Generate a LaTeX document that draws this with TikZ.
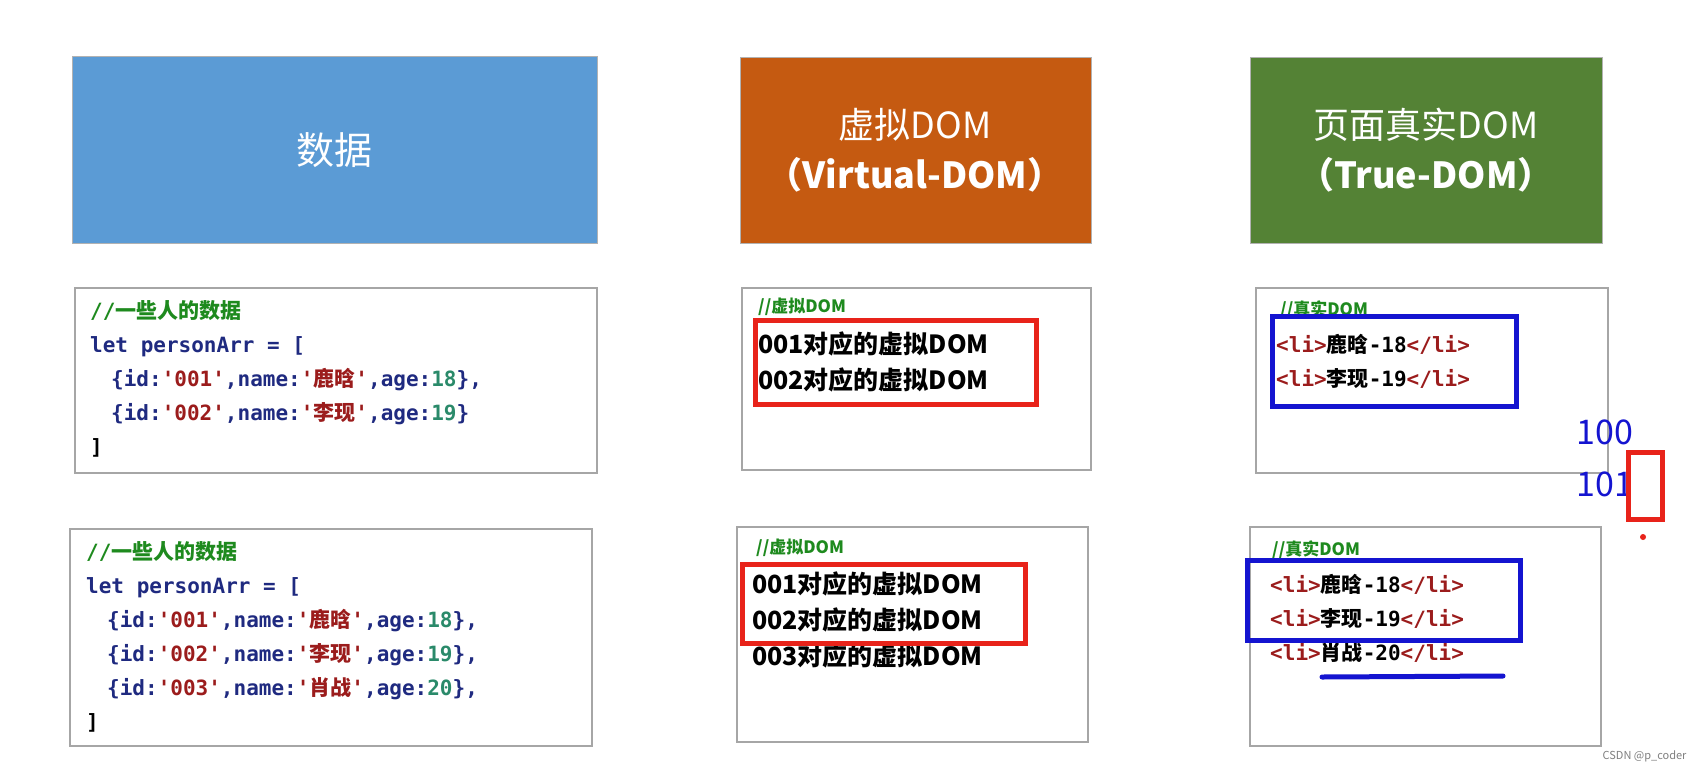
\documentclass[tikz,border=0pt]{standalone}
\usepackage{fontspec}
\setmainfont{Noto Sans CJK SC}
\newfontfamily\cjk{Noto Sans CJK SC}
\newfontfamily\mono{DejaVu Sans Mono}
\definecolor{hblue}{HTML}{5B9BD5}
\definecolor{horange}{HTML}{C55A11}
\definecolor{hgreen}{HTML}{548235}
\definecolor{cm}{HTML}{1E8A1E}
\definecolor{kw}{HTML}{1F2A80}
\definecolor{st}{HTML}{9B1C1C}
\definecolor{nu}{HTML}{2A8A6A}
\definecolor{rbox}{HTML}{E8231A}
\definecolor{bbox}{HTML}{1414D0}
\newcommand{\Cj}[1]{{\cjk #1}}
\newcommand{\Str}[1]{\textcolor{st}{#1}}
\newcommand{\Num}[1]{\textcolor{nu}{#1}}
\begin{document}
\begin{tikzpicture}[x=1pt,y=-1pt,
  head/.style={draw=gray!60,line width=1pt},
  card/.style={draw=gray!70,line width=1.3pt,fill=white},
  code/.style={anchor=north west,align=left,font=\mono\bfseries\fontsize{21}{34}\selectfont,text=kw,inner sep=0},
  htxt/.style={text=white,align=center},
  hilite/.style={line width=5pt}]
\useasboundingbox[fill=white] (0,0) rectangle (1694,769);
% headers
\fill[hblue,head] (72,56) rectangle (597,243);
\node[htxt,font=\fontsize{38}{44}\selectfont] (h1) at (334,150) {数据};
\fill[horange,head] (740,57) rectangle (1091,243);
\node[htxt,font=\fontsize{36}{50}\selectfont] (h2) at (915,150) {虚拟DOM\\\textbf{（Virtual-DOM）}};
\fill[hgreen,head] (1250,57) rectangle (1602,243);
\node[htxt,font=\fontsize{36}{50}\selectfont] (h3) at (1426,150) {页面真实DOM\\\textbf{（True-DOM）}};
% data cards
\draw[card] (75,288) rectangle (597,473);
\node[code] (d1) at (90,300) {\textcolor{cm}{//\Cj{一些人的数据}}\\
let personArr = [\\
\quad\{id:\Str{'001'},name:\Str{'\Cj{鹿晗}'},age:\Num{18}\},\\
\quad\{id:\Str{'002'},name:\Str{'\Cj{李现}'},age:\Num{19}\}\\
\textcolor{black}{]}};
\draw[card] (70,529) rectangle (592,746);
\node[code] (d2) at (86,541) {\textcolor{cm}{//\Cj{一些人的数据}}\\
let personArr = [\\
\quad\{id:\Str{'001'},name:\Str{'\Cj{鹿晗}'},age:\Num{18}\},\\
\quad\{id:\Str{'002'},name:\Str{'\Cj{李现}'},age:\Num{19}\},\\
\quad\{id:\Str{'003'},name:\Str{'\Cj{肖战}'},age:\Num{20}\},\\
\textcolor{black}{]}};
% virtual DOM cards
\draw[card] (742,288) rectangle (1091,470);
\node[anchor=north west,inner sep=0,text=cm,font=\bfseries\fontsize{17}{20}\selectfont] (v1c) at (758,298) {//虚拟DOM};
\node[anchor=north west,inner sep=0,align=left,font=\bfseries\fontsize{25}{36}\selectfont] (v1) at (758,332) {001对应的虚拟DOM\\002对应的虚拟DOM};
\draw[rbox,hilite] (755,320) rectangle (1036,404);
\draw[card] (737,527) rectangle (1088,742);
\node[anchor=north west,inner sep=0,text=cm,font=\bfseries\fontsize{17}{20}\selectfont] (v2c) at (756,539) {//虚拟DOM};
\node[anchor=north west,inner sep=0,align=left,font=\bfseries\fontsize{25}{36}\selectfont] (v2) at (752,572) {001对应的虚拟DOM\\002对应的虚拟DOM\\003对应的虚拟DOM};
\draw[rbox,hilite] (742,564) rectangle (1025,643);
% true DOM cards
\draw[card] (1256,288) rectangle (1608,473);
\node[anchor=north west,inner sep=0,text=cm,font=\bfseries\fontsize{17}{20}\selectfont] (t1c) at (1280,300) {//真实DOM};
\node[code,text=black] (t1) at (1276,334) {\Str{<li>}\Cj{鹿晗}-18\Str{</li>}\\\Str{<li>}\Cj{李现}-19\Str{</li>}};
\draw[bbox,hilite] (1272,316) rectangle (1516,406);
\draw[card] (1250,527) rectangle (1601,746);
\node[anchor=north west,inner sep=0,text=cm,font=\bfseries\fontsize{17}{20}\selectfont] (t2c) at (1272,540) {//真实DOM};
\node[code,text=black] (t2) at (1270,574) {\Str{<li>}\Cj{鹿晗}-18\Str{</li>}\\\Str{<li>}\Cj{李现}-19\Str{</li>}\\\Str{<li>}\Cj{肖战}-20\Str{</li>}};
\draw[bbox,hilite] (1247,560) rectangle (1520,640);
\coordinate (u1) at (1322,677); \coordinate (u2) at (1503,676);
\draw[bbox,line width=5pt,line cap=round] (u1) -- (u2);
% annotations
\node[text=bbox,font=\fontsize{34}{36}\selectfont,inner sep=0] (n100) at (1605,432) {100};
\node[text=bbox,font=\fontsize{34}{36}\selectfont,inner sep=0] (n101) at (1605,484) {101};
\draw[rbox,line width=5pt] (1628,452) rectangle (1662,519);
\fill[rbox] (1643,537) circle (3);
\node[anchor=south east,text=gray,font=\fontsize{11}{12}\selectfont] (wm) at (1690,766) {CSDN @p\_coder};
\end{tikzpicture}
\end{document}
